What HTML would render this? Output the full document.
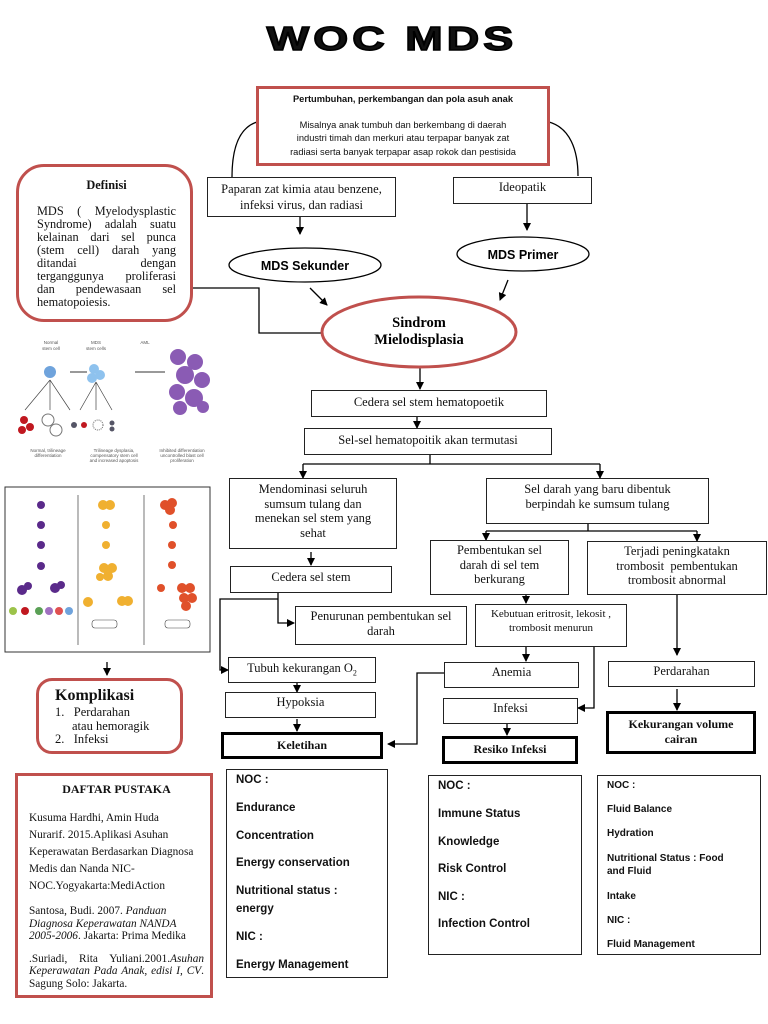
<!DOCTYPE html>
<html><head><meta charset="utf-8"><style>
*{margin:0;padding:0;box-sizing:border-box}
body{width:768px;height:1024px;background:#fff;position:relative;overflow:hidden;font-family:"Liberation Serif",serif;color:#111}
.b{position:absolute;border:1.3px solid #222;background:#fff;text-align:center;font-size:12.5px;line-height:15px}
.t{border:3.5px solid #000;font-weight:bold}
.r{border:3px solid #c0504d}
.s{font-family:"Liberation Sans",sans-serif}
svg{position:absolute;left:0;top:0}
.noc{position:absolute;font-family:"Liberation Sans",sans-serif;font-weight:bold;font-size:11.5px;border:1.3px solid #222;background:#fff}
.noc p{position:absolute;left:9px;white-space:nowrap}
</style></head><body>

<svg width="768" height="1024">
<defs><marker id="a" markerWidth="8" markerHeight="8" refX="7" refY="4" orient="auto" markerUnits="userSpaceOnUse"><path d="M0,0 L8,4 L0,8 z" fill="#000"/></marker></defs>
<g stroke="#000" stroke-width="1.3" fill="none">
<path d="M257,122 C238,128 232,150 232,177"/>
<path d="M549,122 C570,128 578,150 578,176"/>
<path d="M300,216 V234" marker-end="url(#a)"/>
<path d="M527,203 V230" marker-end="url(#a)"/>
<path d="M310,288 L327,305" marker-end="url(#a)"/>
<path d="M508,280 L500,300" marker-end="url(#a)"/>
<path d="M193,288 H259 V333 H323"/>
<path d="M420,367 V389" marker-end="url(#a)"/>
<path d="M417,416 V428" marker-end="url(#a)"/>
<path d="M430,454 V464 M303,464 H600"/>
<path d="M303,464 V478" marker-end="url(#a)"/>
<path d="M600,464 V478" marker-end="url(#a)"/>
<path d="M588,523 V531 M486,531 H697"/>
<path d="M486,531 V540" marker-end="url(#a)"/>
<path d="M697,531 V541" marker-end="url(#a)"/>
<path d="M311,552 V565" marker-end="url(#a)"/>
<path d="M278,592 V623 H294" marker-end="url(#a)"/>
<path d="M278,599 H220 V670 H228" marker-end="url(#a)"/>
<path d="M526,595 V603" marker-end="url(#a)"/>
<path d="M526,647 V661" marker-end="url(#a)"/>
<path d="M444,673 H417 V744 H388" marker-end="url(#a)"/>
<path d="M594,646 V708 H578" marker-end="url(#a)"/>
<path d="M507,724 V735" marker-end="url(#a)"/>
<path d="M297,682 V692" marker-end="url(#a)"/>
<path d="M297,719 V731" marker-end="url(#a)"/>
<path d="M677,594 V655" marker-end="url(#a)"/>
<path d="M677,689 V710" marker-end="url(#a)"/>
<path d="M107,662 V675" marker-end="url(#a)"/>
</g>
<ellipse cx="305" cy="265" rx="76" ry="17" fill="#fff" stroke="#000" stroke-width="1.3"/>
<ellipse cx="523" cy="254" rx="66" ry="17" fill="#fff" stroke="#000" stroke-width="1.3"/>
<ellipse cx="419" cy="332" rx="97" ry="35" fill="#fff" stroke="#c0504d" stroke-width="3"/>
<text x="305" y="270" text-anchor="middle" font-family="Liberation Sans" font-weight="bold" font-size="12.5">MDS Sekunder</text>
<text x="523" y="259" text-anchor="middle" font-family="Liberation Sans" font-weight="bold" font-size="12.5">MDS Primer</text>
<text x="419" y="327" text-anchor="middle" font-family="Liberation Serif" font-weight="bold" font-size="14.5">Sindrom</text>
<text x="419" y="344" text-anchor="middle" font-family="Liberation Serif" font-weight="bold" font-size="14.5">Mielodisplasia</text>

<!-- image 1 -->
<g font-family="Liberation Sans" font-size="4.5" fill="#555" text-anchor="middle">
<text x="51" y="344">Normal</text><text x="51" y="350">stem cell</text>
<text x="96" y="344">MDS</text><text x="96" y="350">stem cells</text>
<text x="145" y="344">AML</text>
<circle cx="50" cy="372" r="6" fill="#6fa3dc"/>
<circle cx="94" cy="369" r="5" fill="#8ec2ee"/><circle cx="100" cy="375" r="5" fill="#8ec2ee"/><circle cx="92" cy="378" r="5" fill="#8ec2ee"/>
<path d="M70,372 H87 M135,372 H165" stroke="#333" stroke-width="1"/>
<g fill="#8a5bb4"><circle cx="178" cy="357" r="8"/><circle cx="195" cy="362" r="8"/><circle cx="185" cy="375" r="9"/><circle cx="202" cy="380" r="8"/><circle cx="177" cy="392" r="8"/><circle cx="194" cy="398" r="9"/><circle cx="180" cy="408" r="7"/><circle cx="203" cy="407" r="6"/></g>
<path d="M50,380 L25,410 M50,380 L50,410 M50,380 L70,410 M96,382 L80,410 M96,382 L96,410 M96,382 L112,410" stroke="#444" stroke-width=".7"/>
<circle cx="24" cy="420" r="4" fill="#c01820"/><circle cx="30" cy="427" r="4" fill="#c01820"/><circle cx="22" cy="430" r="4" fill="#c01820"/>
<circle cx="48" cy="420" r="6" fill="none" stroke="#777"/><circle cx="56" cy="430" r="6" fill="none" stroke="#777"/>
<circle cx="74" cy="425" r="3" fill="#556"/><circle cx="98" cy="425" r="5" fill="none" stroke="#666" stroke-dasharray="1,1"/><circle cx="84" cy="425" r="3" fill="#c01820"/><circle cx="112" cy="423" r="2.5" fill="#556"/><circle cx="112" cy="429" r="2.5" fill="#556"/>
<text x="48" y="452">Normal, trilineage</text><text x="48" y="457">differentiation</text>
<text x="114" y="452">Trilineage dysplasia,</text><text x="114" y="457">compensatory stem cell</text><text x="114" y="462">and increased apoptosis</text>
<text x="182" y="452">Inhibited differentiation</text><text x="182" y="457">uncontrolled blast cell</text><text x="182" y="462">proliferation</text>
</g>

<!-- image 2 -->
<rect x="5" y="487" width="205" height="165" fill="#fff" stroke="#333" stroke-width="1"/>
<path d="M78,495 V645 M144,495 V645" stroke="#555" stroke-width=".8"/>
<g fill="#5a2a8a"><circle cx="41" cy="505" r="4"/><circle cx="41" cy="525" r="4"/><circle cx="41" cy="545" r="4"/><circle cx="41" cy="566" r="4"/><circle cx="22" cy="590" r="5"/><circle cx="28" cy="586" r="4"/><circle cx="55" cy="588" r="5"/><circle cx="61" cy="585" r="4"/></g>
<circle cx="13" cy="611" r="4" fill="#9cc34a"/><circle cx="25" cy="611" r="4" fill="#c01820"/><circle cx="39" cy="611" r="4" fill="#5aa055"/><circle cx="49" cy="611" r="4" fill="#a070c0"/><circle cx="59" cy="611" r="4" fill="#e05050"/><circle cx="69" cy="611" r="4" fill="#6fa3dc"/>
<g fill="#f0b030"><circle cx="103" cy="505" r="5"/><circle cx="110" cy="505" r="5"/><circle cx="106" cy="525" r="4"/><circle cx="106" cy="545" r="4"/><circle cx="104" cy="568" r="5"/><circle cx="112" cy="568" r="5"/><circle cx="108" cy="576" r="5"/><circle cx="100" cy="577" r="4"/><circle cx="88" cy="602" r="5"/><circle cx="122" cy="601" r="5"/><circle cx="128" cy="601" r="5"/></g>
<rect x="92" y="620" width="25" height="8" rx="3" fill="#fff" stroke="#444" stroke-width=".6"/>
<g fill="#e0502a"><circle cx="165" cy="505" r="5"/><circle cx="172" cy="503" r="5"/><circle cx="170" cy="510" r="5"/><circle cx="173" cy="525" r="4"/><circle cx="172" cy="545" r="4"/><circle cx="172" cy="565" r="4"/><circle cx="161" cy="588" r="4"/><circle cx="182" cy="588" r="5"/><circle cx="190" cy="588" r="5"/><circle cx="184" cy="598" r="5"/><circle cx="192" cy="598" r="5"/><circle cx="186" cy="606" r="5"/></g>
<rect x="165" y="620" width="25" height="8" rx="3" fill="#fff" stroke="#444" stroke-width=".6"/>
</svg>

<div style="position:absolute;left:0;width:784px;top:20px;text-align:center;font-family:'Liberation Sans',sans-serif;font-weight:900;font-size:33px;letter-spacing:3px;transform:scaleX(1.36);-webkit-text-stroke:1.5px #000;">WOC MDS</div>

<div class="b r s" style="left:256px;top:86px;width:294px;height:80px;font-size:9.3px;line-height:13.5px;padding-top:4px">
<b>Pertumbuhan, perkembangan dan pola asuh anak</b><div style="height:12px"></div>Misalnya anak tumbuh dan berkembang di daerah<br>industri timah dan merkuri atau terpapar banyak zat<br>radiasi serta banyak terpapar asap rokok dan pestisida</div>

<div class="b" style="left:207px;top:177px;width:189px;height:40px;padding-top:3px;line-height:16px">Paparan zat kimia atau benzene,<br>infeksi virus, dan radiasi</div>
<div class="b" style="left:453px;top:177px;width:139px;height:27px;padding-top:2px">Ideopatik</div>

<div class="b r" style="left:16px;top:164px;width:177px;height:158px;border-radius:28px;text-align:left;padding:12px 14px 0 18px;line-height:13px;font-size:12.3px">
<div style="text-align:center;font-weight:bold;margin-bottom:13px">Definisi</div>
<div style="text-align:justify;text-align-last:justify">MDS ( Myelodysplastic Syndrome) adalah suatu kelainan dari sel punca (stem cell) darah yang ditandai dengan terganggunya proliferasi dan pendewasaan sel</div><div>hematopoiesis.</div></div>

<div class="b" style="left:311px;top:390px;width:236px;height:27px;padding-top:4px">Cedera sel stem hematopoetik</div>
<div class="b" style="left:304px;top:428px;width:248px;height:27px;padding-top:4px">Sel-sel hematopoitik akan termutasi</div>
<div class="b" style="left:229px;top:478px;width:168px;height:71px;padding-top:3px;line-height:14.7px">Mendominasi seluruh<br>sumsum tulang dan<br>menekan sel stem yang<br>sehat</div>
<div class="b" style="left:486px;top:478px;width:223px;height:46px;padding-top:3px;line-height:15px">Sel darah yang baru dibentuk<br>berpindah ke sumsum tulang</div>
<div class="b" style="left:430px;top:540px;width:139px;height:55px;padding-top:2px;line-height:14.7px">Pembentukan sel<br>darah di sel tem<br>berkurang</div>
<div class="b" style="left:587px;top:541px;width:180px;height:54px;padding-top:2px;line-height:14.7px">Terjadi peningkatakn<br>trombosit &nbsp;pembentukan<br>trombosit abnormal</div>
<div class="b" style="left:230px;top:566px;width:162px;height:27px;padding-top:3px">Cedera sel stem</div>
<div class="b" style="left:295px;top:606px;width:172px;height:39px;padding-top:2px;line-height:15px">Penurunan pembentukan sel<br>darah</div>
<div class="b" style="left:475px;top:604px;width:152px;height:43px;padding-top:2px;font-size:11px;line-height:14px">Kebutuan eritrosit, lekosit ,<br>trombosit menurun</div>
<div class="b" style="left:228px;top:657px;width:148px;height:26px;padding-top:3px">Tubuh kekurangan O<sub style="font-size:8px">2</sub></div>
<div class="b" style="left:444px;top:662px;width:135px;height:26px;padding-top:2px">Anemia</div>
<div class="b" style="left:608px;top:661px;width:147px;height:26px;padding-top:2px">Perdarahan</div>
<div class="b" style="left:225px;top:692px;width:151px;height:26px;padding-top:2px">Hypoksia</div>
<div class="b" style="left:443px;top:698px;width:135px;height:26px;padding-top:2px">Infeksi</div>
<div class="b t" style="left:221px;top:732px;width:162px;height:27px;padding-top:3px;font-size:12px">Keletihan</div>
<div class="b t" style="left:442px;top:736px;width:136px;height:28px;padding-top:3px;font-size:12px">Resiko Infeksi</div>
<div class="b t" style="left:606px;top:711px;width:150px;height:43px;padding-top:3px;font-size:12px;line-height:15px">Kekurangan volume<br>cairan</div>

<div class="b r" style="left:36px;top:678px;width:147px;height:76px;border-radius:16px;text-align:left;padding:5px 0 0 16px;font-size:12.5px;line-height:13.5px">
<div style="font-weight:bold;font-size:16px;line-height:20px">Komplikasi</div>
<div>1.&nbsp;&nbsp; Perdarahan</div><div style="padding-left:17px">atau hemoragik</div><div>2.&nbsp;&nbsp; Infeksi</div></div>

<div class="b r" style="left:15px;top:773px;width:198px;height:225px;text-align:left;padding:5px 6px 0 11px;font-size:11.3px;line-height:17px">
<div style="text-align:center;font-weight:bold;font-size:12px;margin-bottom:12px">DAFTAR PUSTAKA</div>
<div>Kusuma Hardhi, Amin Huda<br>Nurarif. 2015.Aplikasi Asuhan<br>Keperawatan Berdasarkan Diagnosa<br>Medis dan Nanda NIC-<br>NOC.Yogyakarta:MediAction</div>
<div style="line-height:12.5px;margin-top:10px">Santosa, Budi. 2007. <i>Panduan Diagnosa Keperawatan NANDA 2005-2006</i>. Jakarta: Prima Medika</div>
<div style="line-height:12.5px;margin-top:10px;text-align:justify">.Suriadi, Rita Yuliani.2001.<i>Asuhan Keperawatan Pada Anak, edisi I, CV</i>. Sagung Solo: Jakarta.</div></div>

<div class="noc" style="left:226px;top:769px;width:162px;height:209px">
<p style="top:4px">NOC :</p><p style="top:32px">Endurance</p><p style="top:60px">Concentration</p><p style="top:87px">Energy conservation</p><p style="top:115px">Nutritional status :</p><p style="top:133px">energy</p><p style="top:161px">NIC :</p><p style="top:189px">Energy Management</p></div>
<div class="noc" style="left:428px;top:775px;width:154px;height:180px">
<p style="top:4px">NOC :</p><p style="top:32px">Immune Status</p><p style="top:60px">Knowledge</p><p style="top:87px">Risk Control</p><p style="top:115px">NIC :</p><p style="top:142px">Infection Control</p></div>
<div class="noc" style="left:597px;top:775px;width:164px;height:180px;font-size:10px">
<p style="top:4px">NOC :</p><p style="top:28px">Fluid Balance</p><p style="top:52px">Hydration</p><p style="top:77px">Nutritional Status : Food</p><p style="top:90px">and Fluid</p><p style="top:115px">Intake</p><p style="top:139px">NIC :</p><p style="top:163px">Fluid Management</p></div>

</body></html>
